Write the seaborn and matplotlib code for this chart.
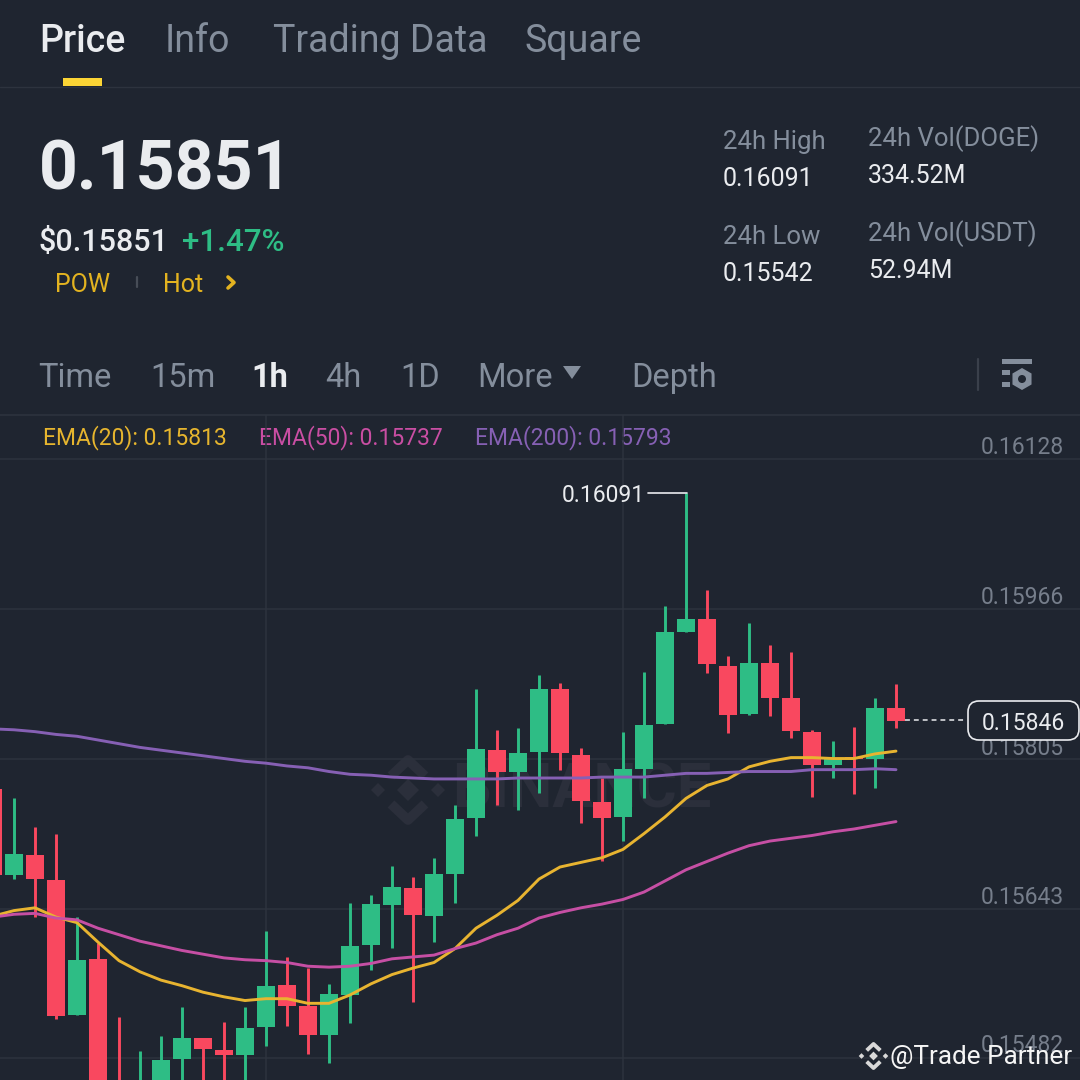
import matplotlib
matplotlib.use("Agg")
import matplotlib.pyplot as plt
from matplotlib.patches import FancyBboxPatch, Polygon, RegularPolygon, Circle
import numpy as np
import pandas as pd
import seaborn as sns

opens = [0.15772,0.15679,0.15701,0.15674,0.15528,0.15589,0.15453,0.15437,0.15447,0.15481,0.15504,0.15491,0.15485,0.15515,0.15561,0.15538,0.15507,0.15550,0.15604,0.15647,0.15665,0.15635,0.15681,0.15741,0.15814,0.15790,0.15812,0.15880,0.15809,0.15758,0.15742,0.15794,0.15842,0.15942,0.15955,0.15905,0.15853,0.15908,0.15870,0.15834,0.15798,0.15807,0.15805,0.15859]
highs = [0.15772,0.15762,0.15731,0.15724,0.15634,0.15606,0.15526,0.15490,0.15506,0.15537,0.15504,0.15521,0.15537,0.15619,0.15591,0.15579,0.15562,0.15649,0.15658,0.15689,0.15677,0.15698,0.15755,0.15880,0.15836,0.15838,0.15895,0.15887,0.15816,0.15784,0.15834,0.15898,0.15969,0.16091,0.15987,0.15916,0.15951,0.15927,0.15920,0.15836,0.15824,0.15839,0.15870,0.15885]
lows = [0.15679,0.15675,0.15634,0.15524,0.15528,0.15426,0.15431,0.15431,0.15437,0.15453,0.15453,0.15453,0.15453,0.15495,0.15516,0.15486,0.15477,0.15520,0.15577,0.15601,0.15542,0.15607,0.15649,0.15721,0.15755,0.15749,0.15768,0.15793,0.15735,0.15695,0.15716,0.15762,0.15842,0.15942,0.15897,0.15832,0.15852,0.15851,0.15827,0.15763,0.15784,0.15767,0.15773,0.15838]
closes = [0.15679,0.15702,0.15675,0.15527,0.15588,0.15442,0.15437,0.15453,0.15480,0.15504,0.15492,0.15485,0.15514,0.15560,0.15538,0.15507,0.15551,0.15603,0.15648,0.15666,0.15636,0.15680,0.15740,0.15815,0.15790,0.15811,0.15880,0.15811,0.15759,0.15741,0.15794,0.15841,0.15942,0.15955,0.15907,0.15852,0.15908,0.15870,0.15835,0.15798,0.15805,0.15805,0.15859,0.15846]
ema20 = [0.15635,0.15641,0.15644,0.15634,0.15628,0.15607,0.15587,0.15575,0.15566,0.15560,0.15553,0.15548,0.15544,0.15546,0.15546,0.15541,0.15541,0.15550,0.15562,0.15572,0.15579,0.15585,0.15600,0.15622,0.15636,0.15652,0.15675,0.15688,0.15693,0.15698,0.15707,0.15724,0.15742,0.15762,0.15776,0.15783,0.15796,0.15802,0.15806,0.15806,0.15805,0.15805,0.15810,0.15813]
ema50 = [0.15634,0.15637,0.15638,0.15633,0.15631,0.15622,0.15615,0.15608,0.15603,0.15598,0.15594,0.15590,0.15588,0.15587,0.15585,0.15581,0.15580,0.15581,0.15584,0.15589,0.15591,0.15593,0.15600,0.15606,0.15615,0.15622,0.15633,0.15639,0.15644,0.15648,0.15653,0.15661,0.15673,0.15685,0.15694,0.15703,0.15711,0.15716,0.15719,0.15722,0.15726,0.15729,0.15733,0.15737]
ema200 = [0.15837,0.15836,0.15834,0.15831,0.15829,0.15825,0.15821,0.15817,0.15814,0.15811,0.15808,0.15805,0.15802,0.15800,0.15797,0.15795,0.15791,0.15788,0.15787,0.15785,0.15784,0.15783,0.15783,0.15783,0.15783,0.15784,0.15784,0.15784,0.15784,0.15785,0.15785,0.15785,0.15787,0.15789,0.15789,0.15790,0.15791,0.15791,0.15791,0.15793,0.15793,0.15793,0.15794,0.15793]
price_ticks = [0.16128, 0.15966, 0.15805, 0.15643, 0.15482]
tabs = ["Price", "Info", "Trading Data", "Square"]
intervals = ["Time", "15m", "1h", "4h", "1D", "More", "Depth"]

BG = "#1f2530"
GRID = "#2d333e"
GRAY = "#848e9c"
TICK = "#767e8b"
WHITE = "#eaecef"
GREEN = "#2ebd85"
RED = "#f9485f"
YELLOW = "#e3b320"

sns.set_theme(style="dark", rc={"axes.facecolor": BG, "figure.facecolor": BG})
plt.rcParams["font.family"] = ["Roboto", "DejaVu Sans"]

fig = plt.figure(figsize=(10.8, 10.8), dpi=100)

# pixel canvas for the app chrome, sits under the chart
ui = fig.add_axes([0, 0, 1, 1], zorder=0)
ui.set_xlim(0, 1080)
ui.set_ylim(1080, 0)
ui.axis("off")

def label(x, y, s, size=22, color=GRAY, ha="left", weight="normal", ax=ui, z=5):
    return ax.text(x, y, s, fontsize=size, color=color, ha=ha, va="center", fontweight=weight, zorder=z)

def logo(ax, cx, cy, k, color):
    # exchange mark, k=1 is the big faint one
    for dx, r in [(0, 11), (-30, 7), (30, 7)]:
        ax.add_patch(Polygon([[cx + (dx - r) * k, cy], [cx + dx * k, cy - r * k], [cx + (dx + r) * k, cy], [cx + dx * k, cy + r * k]], color=color, lw=0, zorder=2))
    ax.plot([cx - 17 * k, cx, cx + 17 * k], [cy - 14 * k, cy - 30 * k, cy - 14 * k], color=color, lw=7 * k, solid_capstyle="butt", zorder=2)
    ax.plot([cx - 17 * k, cx, cx + 17 * k], [cy + 14 * k, cy + 30 * k, cy + 14 * k], color=color, lw=7 * k, solid_capstyle="butt", zorder=2)

for x, s, c, w in zip([39, 165, 273, 525], tabs, [WHITE, GRAY, GRAY, GRAY], ["medium", "normal", "normal", "normal"]):
    label(x, 41, s, 27, c, weight=w)
ui.fill_between([63, 102], 78, 86, color="#fcd535", lw=0)
ui.plot([0, 1080], [86.5, 86.5], color=GRID, lw=1)

label(39, 171.5, "0.15851", 49, WHITE, weight="bold")
label(38, 242.5, "$0.15851", 22, WHITE, weight="medium")
label(182, 242.5, "+1.47%", 22.5, GREEN, weight="medium")
label(55, 285, "POW", 18, YELLOW)
ui.plot([137, 137], [277, 287], color="#474d57", lw=1.6)
label(163, 285, "Hot", 18, YELLOW)
ui.plot([228, 234, 228], [277, 282.5, 288], color=YELLOW, lw=2.6)

label(723, 142, "24h High", 18.5)
label(723, 179, "0.16091", 18, WHITE)
label(723, 237, "24h Low", 18.5)
label(723, 274, "0.15542", 18, WHITE)
label(868, 139, "24h Vol(DOGE)", 18.5)
label(868, 176, "334.52M", 18, WHITE)
label(868, 234, "24h Vol(USDT)", 18.5)
label(868, 271, "52.94M", 18, WHITE)

for x, s in zip([38, 150, 251, 325, 400, 477, 631], intervals):
    if s == "1h":
        label(x, 378, s, 23.5, WHITE, weight="bold")
    else:
        label(x, 378, s, 23.5)
ui.add_patch(Polygon([[563, 366], [581, 366], [572, 379]], color=GRAY, lw=0))
ui.plot([978, 978], [359, 390], color="#3a404b", lw=1.6)
# settings icon
ui.fill_between([1002, 1032], 358.5, 363.5, color=GRAY, lw=0)
ui.fill_between([1002, 1010], 370, 375, color=GRAY, lw=0)
ui.fill_between([1002, 1010], 382, 387, color=GRAY, lw=0)
ui.add_patch(RegularPolygon((1022, 379), 6, radius=11, color=GRAY, lw=0))
ui.add_patch(Circle((1022, 379), 4, color=BG, lw=0))
ui.plot([0, 1080], [415, 415], color=GRID, lw=1.2)

label(43, 438, "EMA(20): 0.15813", 16.5, "#e6b52e")
label(259, 438, "EMA(50): 0.15737", 16.5, "#c94ea3")
label(475, 438, "EMA(200): 0.15793", 16.5, "#8660b4")

# big faint exchange watermark
logo(ui, 408, 790, 1, "#2b2f3b")
label(452, 790, "BINANCE", 44, "#2b2f3b", weight="bold")

# chart, x is the candle number, y is the price
ax = fig.add_axes([0, 0, 1, 665 / 1080], zorder=1)
ax.patch.set_alpha(0)
x = np.arange(len(opens))
for s in ax.spines.values():
    s.set_visible(False)
ax.set_xticks([13, 30])
ax.set_yticks(price_ticks)
ax.tick_params(length=0, labelbottom=False, labelleft=False)
ax.grid(True, color=GRID, lw=1.1)
ax.set_axisbelow(True)

df = pd.DataFrame({"o": opens, "h": highs, "l": lows, "c": closes}, index=x)
colors = [GREEN if c >= o else RED for o, c in zip(df.o, df.c)]
ax.vlines(x, df.l, df.h, colors=colors, lw=2.1, zorder=3)
ax.bar(x, (df.c - df.o).abs(), bottom=df[["o", "c"]].min(axis=1), width=0.89, color=colors, lw=0, zorder=3)

lines = pd.DataFrame({"n": x, "EMA20": ema20, "EMA50": ema50, "EMA200": ema200}).melt("n", var_name="ema", value_name="price")
sns.lineplot(data=lines, x="n", y="price", hue="ema", palette={"EMA20": "#e8b430", "EMA50": "#c64fa4", "EMA200": "#8660b4"},
             lw=2.1, legend=False, ax=ax, zorder=4, sort=False)
ax.set_xlabel("")
ax.set_ylabel("")
ax.set_xlim(1 / 3, 1087 / 21)
ax.set_ylim(0.154583, 0.161755)

# chrome on top of the chart
top = fig.add_axes([0, 0, 1, 1], zorder=2)
top.set_xlim(0, 1080)
top.set_ylim(1080, 0)
top.axis("off")
for y, p in zip([448, 598, 748.5, 897, 1045], price_ticks):
    label(1064, y, f"{p:.5f}", 16.5, TICK, ha="right", ax=top, z=3)
label(562, 496, "0.16091", 16.5, WHITE, ax=top)
top.plot([648, 687], [493, 493], color=WHITE, lw=1.2)
top.plot([905, 965], [720, 720], color=WHITE, lw=1.1, ls=(0, (3.2, 2.6)))
top.add_patch(FancyBboxPatch((968, 701), 111, 39, boxstyle="round,pad=0,rounding_size=11", fc=BG, ec=WHITE, lw=1.2, mutation_aspect=1, zorder=4))
label(982, 724, "0.15846", 16.5, WHITE, ax=top)
label(890, 1057, "@Trade Partner", 18.8, "#f5f5f5", ax=top)
logo(top, 873.5, 1056, 0.4, "#d9d9d9")

fig.savefig("out.png", dpi=100)
